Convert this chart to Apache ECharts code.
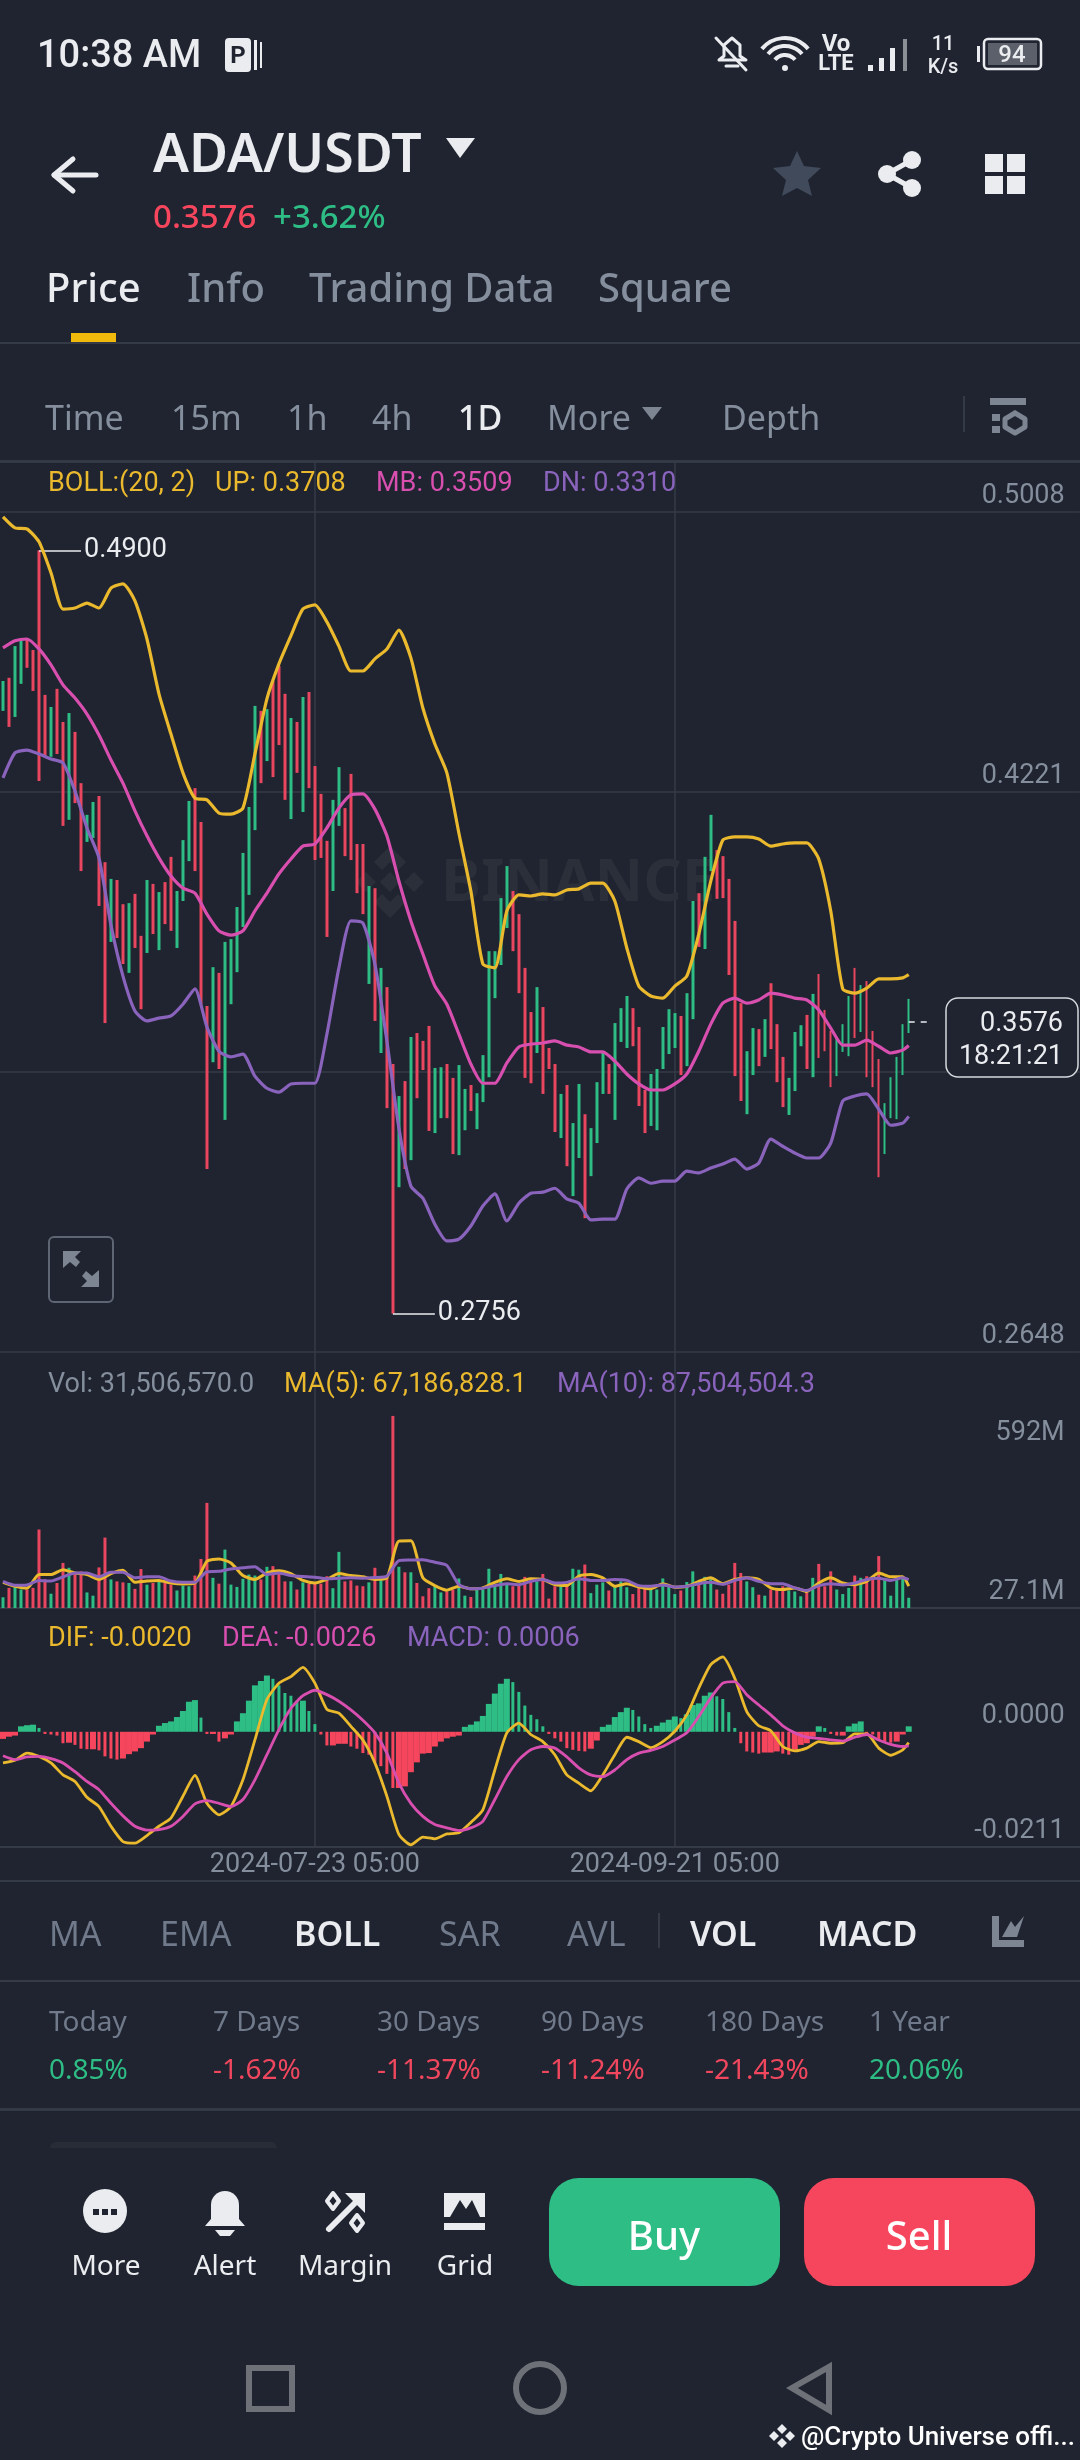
<!DOCTYPE html>
<html>
<head>
<meta charset="utf-8">
<title>ADA/USDT</title>
<script src="https://cdn.jsdelivr.net/npm/echarts@6/dist/echarts.min.js"></script>
<style>
  html, body { margin: 0; padding: 0; background: #1f2430; }
  #chart { width: 1080px; height: 2460px; }
</style>
</head>
<body>
<div id="chart"></div>
<script>
// one entry per daily candle; the picture only shows high to low, body and wick have the same width
const highs = [
  .4533,.4542,.4631,.4651,.4651,.4620,.4900,.4494,.4460,.4511,
  .4418,.4443,.4390,.4246,.4157,.4193,.4210,.4024,.3977,.3974,
  .3906,.3909,.3935,.3817,.3974,.3963,.3940,.3968,.4039,.3943,
  .4086,.4196,.4232,.4137,.3620,.3729,.3713,.3800,.3808,.3898,
  .4050,.4179,.4463,.4449,.4454,.4533,.4575,.4497,.4429,.4418,
  .4488,.4502,.4294,.4216,.4084,.4199,.4291,.4176,.4272,.4075,
  .4075,.3957,.3951,.3727,.3673,.3457,.3367,.3409,.3533,.3544,
  .3522,.3564,.3446,.3448,.3457,.3418,.3454,.3387,.3398,.3375,
  .3482,.3774,.3774,.3923,.4013,.3943,.3878,.3727,.3603,.3673,
  .3617,.3502,.3457,.3373,.3398,.3291,.3401,.3316,.3277,.3406,
  .3488,.3457,.3572,.3614,.3648,.3614,.3561,.3384,.3429,.3443,
  .3561,.3611,.3600,.3592,.3656,.3915,.3937,.4039,.4157,.4058,
  .4041,.3977,.3859,.3628,.3493,.3558,.3555,.3583,.3684,.3569,
  .3477,.3418,.3547,.3566,.3595,.3654,.3710,.3609,.3550,.3530,
  .3569,.3648,.3727,.3679,.3690,.3550,.3471,.3347,.3420,.3477,
  .3569,.3640
];
const lows = [
  .4449,.4404,.4432,.4525,.4570,.4505,.4252,.4320,.4320,.4328,
  .4126,.4143,.4190,.3999,.4081,.4092,.3901,.3572,.3800,.3811,
  .3738,.3713,.3783,.3611,.3769,.3822,.3777,.3850,.3831,.3783,
  .3915,.4027,.3999,.3625,.3162,.3462,.3443,.3300,.3625,.3715,
  .3842,.3932,.4114,.4246,.4308,.4263,.4353,.4199,.4145,.4275,
  .4165,.4232,.4030,.4036,.3814,.3943,.4126,.4041,.4030,.3937,
  .3878,.3682,.3578,.3488,.3333,.2756,.3111,.3162,.3187,.3361,
  .3440,.3269,.3263,.3305,.3305,.3204,.3201,.3271,.3325,.3274,
  .3350,.3420,.3642,.3735,.3839,.3774,.3656,.3418,.3403,.3488,
  .3373,.3443,.3266,.3249,.3170,.3086,.3193,.3024,.3142,.3235,
  .3373,.3373,.3300,.3519,.3502,.3507,.3339,.3263,.3283,.3271,
  .3443,.3485,.3502,.3426,.3451,.3583,.3786,.3780,.3999,.3921,
  .3923,.3707,.3423,.3353,.3316,.3426,.3451,.3477,.3499,.3406,
  .3336,.3314,.3381,.3507,.3443,.3420,.3474,.3493,.3392,.3423,
  .3491,.3479,.3530,.3547,.3420,.3392,.3139,.3204,.3305,.3302,
  .3426,.3544
];
// 1 = green candle, 0 = red candle
const upFlags = [
  '1011000010','0100110010','0100101001','1100010111','1110100010',
  '1000011000','0101001010','0011001101','1111100001','0001011011',
  '1011100011','1110110110','0000110100','0111010001','1101000111','11'
].join('').split('').map(Number);

// millions
const volumes = [
  33,62,65,57,57,62,242,88,44,77,
  139,124,103,113,48,38,125,217,88,82,
  79,77,59,120,72,77,82,79,72,54,
  69,67,100,151,324,93,75,180,72,65,
  90,103,100,88,127,129,113,82,82,57,
  79,75,77,75,98,61,173,82,85,69,
  67,79,124,88,93,592,127,110,110,77,
  36,61,67,48,51,57,91,38,34,57,
  57,121,72,105,75,67,70,96,93,82,
  105,29,67,77,72,121,118,134,46,72,
  79,54,67,82,64,43,64,67,57,57,
  91,67,43,54,80,113,77,96,93,57,
  44,72,139,108,82,64,41,38,57,57,
  67,54,51,36,49,93,136,67,113,57,
  43,62,100,93,98,90,160,88,38,88,
  93,31.5
];
// units of 0.0001
const macdBars = [
  -13,-9,-7,10,12,13,7,-4,-5,-7,
  -21,-20,-24,-31,-32,-32,-34,-45,-49,-51,
  -49,-41,-36,-30,-18,-5,11,16,19,27,
  38,55,58,26,-4,-4,-18,-12,-5,19,
  34,57,85,93,103,97,85,71,66,57,
  57,38,14,-5,-25,-25,-22,-22,-27,-31,
  -39,-42,-56,-63,-77,-103,-103,-100,-74,-56,
  -40,-39,-27,-18,-12,-9,-7,9,13,19,
  29,51,70,88,97,91,73,48,31,23,
  10,-4,-12,-18,-30,-33,-35,-36,-31,-16,
  9,13,27,36,44,40,28,14,7,11,
  17,22,28,25,32,49,52,66,72,65,
  60,36,7,-21,-36,-38,-40,-38,-38,-36,
  -40,-42,-33,-24,-21,-9,10,7,-4,-7,
  -7,10,15,19,-2,-5,-15,-18,-20,-18,
  -5,10
];

// the lines below were read at every second candle, plus the last one
const bollUp = [
  .4994,.4963,.4960,.4924,.4837,.4735,.4738,.4752,.4738,.4794,
  .4806,.4758,.4651,.4497,.4384,.4275,.4204,.4199,.4162,.4159,
  .4176,.4328,.4483,.4581,.4660,.4735,.4747,.4699,.4631,.4561,
  .4561,.4595,.4623,.4676,.4598,.4457,.4356,.4275,.4106,.3943,
  .3738,.3727,.3887,.3932,.3929,.3935,.3932,.3946,.3949,.3965,
  .3965,.3915,.3783,.3676,.3648,.3642,.3676,.3704,.3822,.3971,
  .4086,.4095,.4095,.4089,.4069,.4075,.4078,.4078,.4033,.3887,
  .3668,.3656,.3670,.3696,.3696,.3699,.3708
];
const bollMb = [
  .4626,.4646,.4651,.4623,.4578,.4522,.4485,.4440,.4381,.4311,
  .4246,.4168,.4098,.4036,.3985,.3951,.3937,.3878,.3831,.3819,
  .3831,.3887,.3937,.3991,.4033,.4069,.4075,.4120,.4176,.4213,
  .4216,.4173,.4098,.3971,.3859,.3766,.3676,.3625,.3541,.3457,
  .3403,.3403,.3460,.3505,.3513,.3516,.3522,.3510,.3505,.3491,
  .3491,.3465,.3429,.3401,.3384,.3384,.3401,.3429,.3493,.3569,
  .3628,.3642,.3628,.3637,.3656,.3651,.3642,.3637,.3609,.3558,
  .3510,.3510,.3524,.3507,.3488,.3496,.3509
];
const bollDn = [
  .4261,.4331,.4339,.4328,.4314,.4303,.4224,.4120,.4036,.3847,
  .3704,.3606,.3578,.3586,.3592,.3625,.3668,.3561,.3493,.3477,
  .3485,.3423,.3389,.3378,.3401,.3403,.3403,.3541,.3727,.3859,
  .3853,.3738,.3522,.3277,.3114,.3080,.3007,.2960,.2965,.3002,
  .3058,.3092,.3016,.3066,.3094,.3097,.3108,.3078,.3066,.3019,
  .3021,.3021,.3106,.3137,.3122,.3128,.3128,.3156,.3151,.3165,
  .3176,.3190,.3162,.3179,.3246,.3226,.3207,.3193,.3193,.3235,
  .3353,.3367,.3373,.3330,.3285,.3291,.3310
];
const volMa5 = [
  79,67,61,103,103,118,108,103,88,106,
  116,79,83,85,77,74,77,144,151,139,
  100,88,108,115,106,85,77,88,106,100,
  96,88,93,206,207,93,69,55,67,59,
  62,79,90,82,90,88,72,69,98,103,
  93,67,75,65,59,75,64,67,82,93,
  75,88,93,88,62,57,62,51,77,93,
  77,72,82,108,96,96,67.2
];
const volMa10 = [
  82,70,71,85,83,96,108,108,96,110,
  110,93,96,96,83,79,79,112,113,120,
  124,127,103,108,100,97,95,90,92,93,
  92,94,98,146,148,149,141,131,72,59,
  61,69,75,72,82,88,77,79,90,85,
  85,88,85,69,67,71,65,67,75,79,
  73,85,93,82,75,75,62,54,69,75,
  71,77,88,92,85,93,87.5
];
const macdDif = [
  -57,-52,-39,-45,-57,-79,-91,-120,-137,-173,
  -201,-204,-190,-173,-158,-118,-80,-131,-152,-137,
  -88,-15,59,89,101,118,89,41,34,10,
  -15,-57,-118,-188,-207,-193,-196,-187,-185,-166,
  -143,-70,-2,16,-5,-18,-42,-79,-94,-108,
  -79,-42,-10,-18,-29,-18,1,31,80,123,
  137,98,37,11,2,-27,-35,-30,-18,-21,
  -20,-4,-4,-30,-43,-33,-20
];
const macdDea = [
  -44,-51,-46,-45,-49,-57,-73,-91,-106,-131,
  -154,-173,-180,-179,-173,-155,-132,-126,-131,-137,
  -124,-88,-42,4,43,66,76,68,56,40,
  21,-2,-39,-94,-131,-155,-170,-176,-181,-176,
  -164,-124,-82,-51,-33,-27,-30,-46,-66,-79,
  -82,-70,-51,-39,-34,-27,-15,-2,28,62,
  89,92,68,49,31,11,-2,-10,-12,-15,
  -17,-10,-5,-15,-23,-27,-26
];

const priceTicks = [0.2648, 0.3434, 0.4221, 0.5008];
const priceLabels = [0.2648, 0.4221, 0.5008];
const volLabels = [27.1, 592];
const macdLabels = [-0.0211, 0];
const shownDates = [52, 112];
const lastPrice = 0.3576;

const GREEN = '#2ebd85', RED = '#e9465f', YELLOW = '#eab92d', PINK = '#d84fb0', PURPLE = '#8a63bd';
const GRID_LINE = '#343a46', GREY = '#848e9c', WHITE = '#eaecef', BG = '#1f2430';
const NUM = 'Roboto', UI = '"Noto Sans"';

// the time axis is wider than the data, the newest candle stops short of the price scale
const dates = [];
for (let i = 0; i < 180; i++) {
  const d = new Date(Date.UTC(2024, 5, 1 + i));
  dates.push(d.toISOString().slice(0, 10) + ' 05:00');
}
const lineIdx = [];
for (let i = 0; i < 152; i += 2) lineIdx.push(i);
lineIdx.push(151);

const toLine = (arr, k) => arr.map((v, i) => [lineIdx[i], k ? v * k : v]);
const candles = highs.map((h, i) => upFlags[i] ? [lows[i], h, lows[i], h] : [h, lows[i], lows[i], h]);
const rising = (i) => i === 0 || macdBars[i] >= macdBars[i - 1];

// ---- app chrome around the chart
const g = [];
function text(x, y, s, fill, size, weight, family, align) {
  // canvas "middle" sits above the glyph centre, nudge it down
  g.push({ type: 'text', x: x, y: y + size * 0.07, z: 60, silent: true, style: {
    text: s, fill: fill, fontSize: size, fontWeight: weight || 400, fontFamily: family || UI,
    align: align || 'left', verticalAlign: 'middle'
  } });
}
function rect(x, y, w, h, fill, r) {
  g.push({ type: 'rect', z: 55, silent: true, shape: { x: x, y: y, width: w, height: h, r: r || 0 }, style: { fill: fill } });
}
function poly(points, fill, z) {
  g.push({ type: 'polygon', z: z || 55, silent: true, shape: { points: points }, style: { fill: fill } });
}
function line(points, color, width) {
  g.push({ type: 'polyline', z: 55, silent: true, shape: { points: points }, style: { stroke: color, lineWidth: width, fill: 'none', lineCap: 'round', lineJoin: 'round' } });
}
function arc(cx, cy, r, color, width) {
  g.push({ type: 'arc', z: 55, silent: true, shape: { cx: cx, cy: cy, r: r, startAngle: -Math.PI * 0.78, endAngle: -Math.PI * 0.22 }, style: { stroke: color, lineWidth: width, fill: 'none' } });
}
function circle(cx, cy, r, fill, lineColor, width) {
  g.push({ type: 'circle', z: 55, silent: true, shape: { cx: cx, cy: cy, r: r }, style: { fill: fill || 'none', stroke: lineColor || 'none', lineWidth: width || 0 } });
}
function rule(y, h) { rect(0, y, 1080, h || 2, GRID_LINE); }

// status bar
text(37, 55, '10:38 AM', WHITE, 38, 500, NUM);
rect(225, 38, 26, 34, WHITE, 4);
text(238, 55, 'P', BG, 24, 700, NUM, 'center');
rect(254, 40, 3, 30, WHITE); rect(260, 42, 2, 26, WHITE);
line([[719, 60], [724, 56], [724, 45], [732, 38], [740, 45], [740, 56], [746, 60], [719, 60]], WHITE, 3);
line([[726, 66], [738, 66]], WHITE, 3);
line([[716, 38], [746, 70]], WHITE, 3);
arc(785, 68, 13, WHITE, 4); arc(785, 68, 22, WHITE, 4); arc(785, 68, 30, WHITE, 4);
circle(785, 68, 3, WHITE);
text(836, 43, 'Vo', WHITE, 24, 700, NUM, 'center');
text(836, 63, 'LTE', WHITE, 22, 700, NUM, 'center');
rect(868, 65, 5, 6, WHITE); rect(879, 58, 5, 13, WHITE); rect(890, 48, 5, 23, WHITE); rect(903, 39, 4, 32, '#8b8f96');
text(943, 44, '11', WHITE, 20, 500, NUM, 'center');
text(943, 67, 'K/s', WHITE, 20, 500, NUM, 'center');
g.push({ type: 'rect', z: 55, silent: true, shape: { x: 984, y: 39, width: 57, height: 30, r: 4 }, style: { fill: 'none', stroke: WHITE, lineWidth: 2.5 } });
rect(977, 46, 3, 16, WHITE);
rect(988, 43, 49, 22, '#5b606a');
text(1012, 54, '94', WHITE, 24, 500, NUM, 'center');

// title row
line([[54, 175], [96, 175]], WHITE, 5);
line([[73, 159], [54, 175], [73, 191]], WHITE, 5);
text(153, 153, 'ADA/USDT', WHITE, 53.5, 600);
poly([[446, 138], [475, 138], [460, 158]], WHITE);
text(153, 216, '0.3576', '#f6465d', 33, 500);
text(273, 216, '+3.62%', GREEN, 33, 500);
poly([[797, 151], [804, 166], [821, 168], [808, 180], [812, 196], [797, 188], [782, 196], [786, 180], [773, 168], [790, 166]], '#404a5a');
line([[912, 160], [887, 174], [912, 188]], WHITE, 5);
circle(912, 160, 9, WHITE); circle(887, 174, 9, WHITE); circle(912, 188, 9, WHITE);
rect(985, 154, 18, 18, WHITE); rect(1007, 154, 18, 18, WHITE); rect(985, 176, 18, 18, WHITE); rect(1007, 176, 18, 18, WHITE);

// tabs
text(46, 288, 'Price', WHITE, 40, 500);
text(187, 288, 'Info', GREY, 40, 500);
text(309, 288, 'Trading Data', GREY, 40, 500);
text(598, 288, 'Square', GREY, 40, 500);
rule(342);
rect(71, 333, 45, 9, '#f0b90b');

// interval row
[['Time', 45], ['15m', 171], ['1h', 287], ['4h', 372], ['More', 547], ['Depth', 722]].forEach(function (t) {
  text(t[1], 418, t[0], GREY, 34);
});
text(458, 418, '1D', WHITE, 34, 500);
poly([[642, 407], [662, 407], [652, 420]], '#7d8592');
rect(963, 396, 2, 36, GRID_LINE);
rect(990, 398, 36, 7, '#7d8592');
rect(992, 414, 8, 7, '#7d8592'); rect(992, 426, 8, 7, '#7d8592');
line([[1015, 413], [1025, 419], [1025, 427], [1015, 433], [1005, 427], [1005, 419], [1015, 413]], '#7d8592', 5);
rule(460, 3);

// indicator captions
text(48, 482, 'BOLL:(20, 2)', YELLOW, 27, 400, NUM);
text(215, 482, 'UP: 0.3708', YELLOW, 27, 400, NUM);
text(376, 482, 'MB: 0.3509', PINK, 27, 400, NUM);
text(543, 482, 'DN: 0.3310', PURPLE, 27, 400, NUM);
text(48, 1383, 'Vol: 31,506,570.0', GREY, 27, 400, NUM);
text(284, 1383, 'MA(5): 67,186,828.1', YELLOW, 27, 400, NUM);
text(557, 1383, 'MA(10): 87,504,504.3', PURPLE, 27, 400, NUM);
text(48, 1637, 'DIF: -0.0020', YELLOW, 27, 400, NUM);
text(222, 1637, 'DEA: -0.0026', PINK, 27, 400, NUM);
text(407, 1637, 'MACD: 0.0006', PURPLE, 27, 400, NUM);

// watermark, behind the candles
g.push({ type: 'text', x: 441, y: 884, z: 1, silent: true, style: { text: 'BINANCE', fill: '#2a2f39', fontSize: 60, fontWeight: 700, fontFamily: UI, align: 'left', verticalAlign: 'middle' } });
const MARK = '#2a2f39';
poly([[390, 846], [406, 862], [398, 870], [390, 862], [382, 870], [374, 862]], MARK, 1);
poly([[390, 918], [406, 902], [398, 894], [390, 902], [382, 894], [374, 902]], MARK, 1);
poly([[390, 872], [400, 882], [390, 892], [380, 882]], MARK, 1);
poly([[366, 872], [376, 882], [366, 892], [356, 882]], MARK, 1);
poly([[414, 872], [424, 882], [414, 892], [404, 882]], MARK, 1);

// expand button
g.push({ type: 'rect', z: 55, silent: true, shape: { x: 49, y: 1237, width: 64, height: 65, r: 5 }, style: { fill: 'none', stroke: '#5e6673', lineWidth: 2 } });
poly([[63, 1251], [81, 1251], [75, 1257], [80, 1262], [76, 1267], [70, 1262], [63, 1268]], '#7d8592');
poly([[99, 1287], [81, 1287], [87, 1281], [82, 1276], [86, 1271], [92, 1276], [99, 1270]], '#7d8592');

// live price tag
g.push({ type: 'rect', z: 58, silent: true, shape: { x: 946, y: 998, width: 132, height: 79, r: 12 }, style: { fill: BG, stroke: '#d5d9de', lineWidth: 1.5 } });
text(1063, 1022, '0.3576', WHITE, 27, 400, NUM, 'right');
text(1063, 1055, '18:21:21', WHITE, 27, 400, NUM, 'right');

// indicator picker
rule(1880);
[['MA', 49], ['EMA', 160], ['SAR', 439], ['AVL', 567]].forEach(function (t) {
  text(t[1], 1934, t[0], '#707a8a', 34);
});
[['BOLL', 294], ['VOL', 690], ['MACD', 817]].forEach(function (t) {
  text(t[1], 1934, t[0], WHITE, 34, 600);
});
rect(658, 1913, 2, 35, GRID_LINE);
poly([[992, 1916], [999, 1916], [999, 1940], [1024, 1940], [1024, 1947], [992, 1947]], '#7d8592');
poly([[1002, 1937], [1011, 1921], [1015, 1927], [1024, 1916], [1017, 1937]], '#7d8592');
rule(1980);

// performance table
const periods = ['Today', '7 Days', '30 Days', '90 Days', '180 Days', '1 Year'];
const changes = ['0.85%', '-1.62%', '-11.37%', '-11.24%', '-21.43%', '20.06%'];
const periodX = [49, 213, 377, 541, 705, 869];
periods.forEach(function (p, i) {
  text(periodX[i], 2021, p, '#707a8a', 28);
  text(periodX[i], 2069, changes[i], changes[i][0] === '-' ? '#f0475f' : GREEN, 28);
});
rule(2108, 3);
rect(50, 2142, 227, 6, '#272c36', [6, 6, 0, 0]);

// bottom actions
circle(105, 2211, 22, WHITE);
rect(93, 2209, 6, 6, BG); rect(102, 2209, 6, 6, BG); rect(111, 2209, 6, 6, BG);
circle(225, 2205, 14, WHITE);
rect(211, 2205, 28, 15, WHITE);
poly([[211, 2219], [239, 2219], [245, 2226], [205, 2226]], WHITE);
poly([[215, 2230], [235, 2230], [230, 2236], [220, 2236]], WHITE);
line([[329, 2229], [361, 2197]], WHITE, 6);
poly([[345, 2193], [365, 2193], [365, 2213]], WHITE);
line([[333, 2193], [339, 2201], [333, 2209], [327, 2201], [333, 2193]], WHITE, 4);
line([[357, 2215], [363, 2223], [357, 2231], [351, 2223], [357, 2215]], WHITE, 4);
poly([[444, 2193], [485, 2193], [485, 2217], [444, 2217]], WHITE);
poly([[450, 2217], [460, 2200], [466, 2209], [472, 2200], [480, 2217]], BG);
rect(444, 2223, 41, 7, WHITE);
text(106, 2265, 'More', WHITE, 28, 400, UI, 'center');
text(225, 2265, 'Alert', WHITE, 28, 400, UI, 'center');
text(345, 2265, 'Margin', WHITE, 28, 400, UI, 'center');
text(465, 2265, 'Grid', WHITE, 28, 400, UI, 'center');
rect(549, 2178, 231, 108, '#2ebd85', 30);
rect(804, 2178, 231, 108, '#f6465d', 30);
text(664, 2236, 'Buy', '#ffffff', 40, 500, UI, 'center');
text(919, 2236, 'Sell', '#ffffff', 40, 500, UI, 'center');

// android nav bar
g.push({ type: 'rect', z: 55, silent: true, shape: { x: 249, y: 2368, width: 43, height: 41 }, style: { fill: 'none', stroke: '#6e7278', lineWidth: 6 } });
circle(540, 2388, 24, 'none', '#6e7278', 6);
g.push({ type: 'polygon', z: 55, silent: true, shape: { points: [[829, 2367], [829, 2410], [792, 2388]] }, style: { fill: 'none', stroke: '#6e7278', lineWidth: 6 } });

// reposted-by badge
poly([[782, 2424], [787, 2429], [782, 2434], [777, 2429]], WHITE);
poly([[782, 2438], [787, 2443], [782, 2448], [777, 2443]], WHITE);
poly([[774, 2431], [779, 2436], [774, 2441], [769, 2436]], WHITE);
poly([[790, 2431], [795, 2436], [790, 2441], [785, 2436]], WHITE);
text(801, 2437, '@Crypto Universe offi...', '#ffffff', 26, 500, NUM);

// ---- panes
const gridBox = { left: -0.33, width: 1080 };
const grids = [
  Object.assign({ top: 461, height: 891 }, gridBox),
  Object.assign({ top: 1352, height: 256 }, gridBox),
  Object.assign({ top: 1610, height: 237 }, gridBox),
  Object.assign({ top: 1610, height: 237 }, gridBox)
];
function timeAxis(gridIndex, extra) {
  return Object.assign({
    type: 'category', gridIndex: gridIndex, data: dates, boundaryGap: true,
    axisLine: { show: false }, axisTick: { show: false }, axisLabel: { show: false },
    splitLine: { show: true, alignWithLabel: true, interval: (i) => shownDates.includes(i), lineStyle: { color: GRID_LINE, width: 1.5 } }
  }, extra);
}
const sideLabel = {
  inside: true, margin: 15, color: GREY, fontSize: 27, fontFamily: NUM, verticalAlign: 'bottom', lineHeight: 32
};

function priceLine(name, arr, color) {
  return { name: name, type: 'line', xAxisIndex: 0, yAxisIndex: 0, data: toLine(arr), showSymbol: false, silent: true, z: 5,
    smooth: 0.2, lineStyle: { color: color, width: 3.2 } };
}
function volLine(name, arr, color) {
  return { name: name, type: 'line', xAxisIndex: 1, yAxisIndex: 1, data: toLine(arr), showSymbol: false, silent: true, z: 5,
    smooth: 0.2, lineStyle: { color: color, width: 3 } };
}
function macdLine(name, arr, color) {
  return { name: name, type: 'line', xAxisIndex: 2, yAxisIndex: 2, data: toLine(arr, 1e-4), showSymbol: false, silent: true, z: 5,
    smooth: 0.2, lineStyle: { color: color, width: 2.8 } };
}

const option = {
  backgroundColor: BG,
  animation: false,
  graphic: { elements: g },
  grid: grids,
  xAxis: [
    timeAxis(0),
    timeAxis(1, { axisLine: { show: true, onZero: true, lineStyle: { color: GRID_LINE, width: 2 } } }),
    timeAxis(2, {
      axisLine: { show: true, onZero: false, lineStyle: { color: GRID_LINE, width: 2 } },
      axisLabel: { show: true, interval: (i) => shownDates.includes(i), margin: 6, color: GREY, fontSize: 27, fontFamily: NUM, lineHeight: 24 }
    }),
    { type: 'category', gridIndex: 3, data: dates, show: false }
  ],
  yAxis: [
    {
      type: 'value', gridIndex: 0, position: 'right', min: 0.2648, max: 0.5151,
      axisLine: { show: false }, axisTick: { show: false, customValues: priceTicks },
      splitLine: { show: true, lineStyle: { color: GRID_LINE, width: 1.5 } },
      axisLabel: Object.assign({ customValues: priceLabels, formatter: (v) => v.toFixed(4) }, sideLabel)
    },
    {
      type: 'value', gridIndex: 1, position: 'right', min: 0, max: 789,
      axisLine: { show: false }, axisTick: { show: false }, splitLine: { show: false },
      axisLabel: Object.assign({}, sideLabel, {
        customValues: volLabels, lineHeight: undefined, verticalAlign: 'middle',
        formatter: (v) => v > 100 ? '{hi|' + v + 'M}' : '{lo|' + v + 'M}',
        rich: { hi: { fontSize: 27, fontFamily: NUM, color: GREY, padding: [34, 0, 0, 0] }, lo: { fontSize: 27, fontFamily: NUM, color: GREY, padding: [0, 0, 14, 0] } }
      })
    },
    {
      type: 'value', gridIndex: 2, position: 'right', min: -0.0211, max: 0.0223,
      axisLine: { show: false }, axisTick: { show: false }, splitLine: { show: false },
      axisLabel: Object.assign({ customValues: macdLabels, formatter: (v) => v.toFixed(4) }, sideLabel)
    },
    { type: 'value', gridIndex: 3, min: -0.0211, max: 0.0223, show: false }
  ],
  series: [
    {
      name: 'ADA/USDT', type: 'candlestick', xAxisIndex: 0, yAxisIndex: 0, data: candles, barWidth: 3, silent: true,
      itemStyle: { color: GREEN, color0: RED, borderColor: GREEN, borderColor0: RED, borderWidth: 0 },
      markLine: {
        silent: true, symbol: 'none', animation: false,
        lineStyle: { color: WHITE, type: 'solid', width: 1.5 },
        label: { position: 'end', color: WHITE, fontSize: 27, fontFamily: NUM, distance: 3 },
        data: [
          [{ coord: [6, 0.4900], label: { formatter: '0.4900' } }, { coord: [13, 0.4900] }],
          [{ coord: [65, 0.2756], label: { formatter: '0.2756' } }, { coord: [72, 0.2756] }],
          [{ coord: [151, lastPrice], lineStyle: { type: [6, 6], width: 1.5 }, label: { show: false } }, { coord: [155, lastPrice] }]
        ]
      }
    },
    priceLine('UP', bollUp, YELLOW),
    priceLine('MB', bollMb, PINK),
    priceLine('DN', bollDn, PURPLE),
    {
      name: 'Vol', type: 'bar', xAxisIndex: 1, yAxisIndex: 1, data: volumes, barWidth: 3, silent: true,
      itemStyle: { color: (p) => upFlags[p.dataIndex] ? GREEN : RED }
    },
    volLine('MA(5)', volMa5, YELLOW),
    volLine('MA(10)', volMa10, PURPLE),
    {
      name: 'MACD rising', type: 'bar', xAxisIndex: 2, yAxisIndex: 2, barWidth: 6, barMinHeight: 2, silent: true,
      data: macdBars.map((v, i) => rising(i) ? v / 1e4 : null),
      itemStyle: { color: (p) => p.value >= 0 ? GREEN : '#f6465d' }
    },
    {
      name: 'MACD falling', type: 'bar', xAxisIndex: 3, yAxisIndex: 3, barWidth: 3, barMinHeight: 2, silent: true,
      data: macdBars.map((v, i) => rising(i) ? null : v / 1e4),
      itemStyle: { color: (p) => p.value >= 0 ? GREEN : '#f6465d' }
    },
    macdLine('DIF', macdDif, YELLOW),
    macdLine('DEA', macdDea, PINK)
  ]
};

const myChart = echarts.init(document.getElementById('chart'));
myChart.setOption(option);
window.addEventListener('resize', function () {
  myChart.resize();
});
</script>
</body>
</html>
